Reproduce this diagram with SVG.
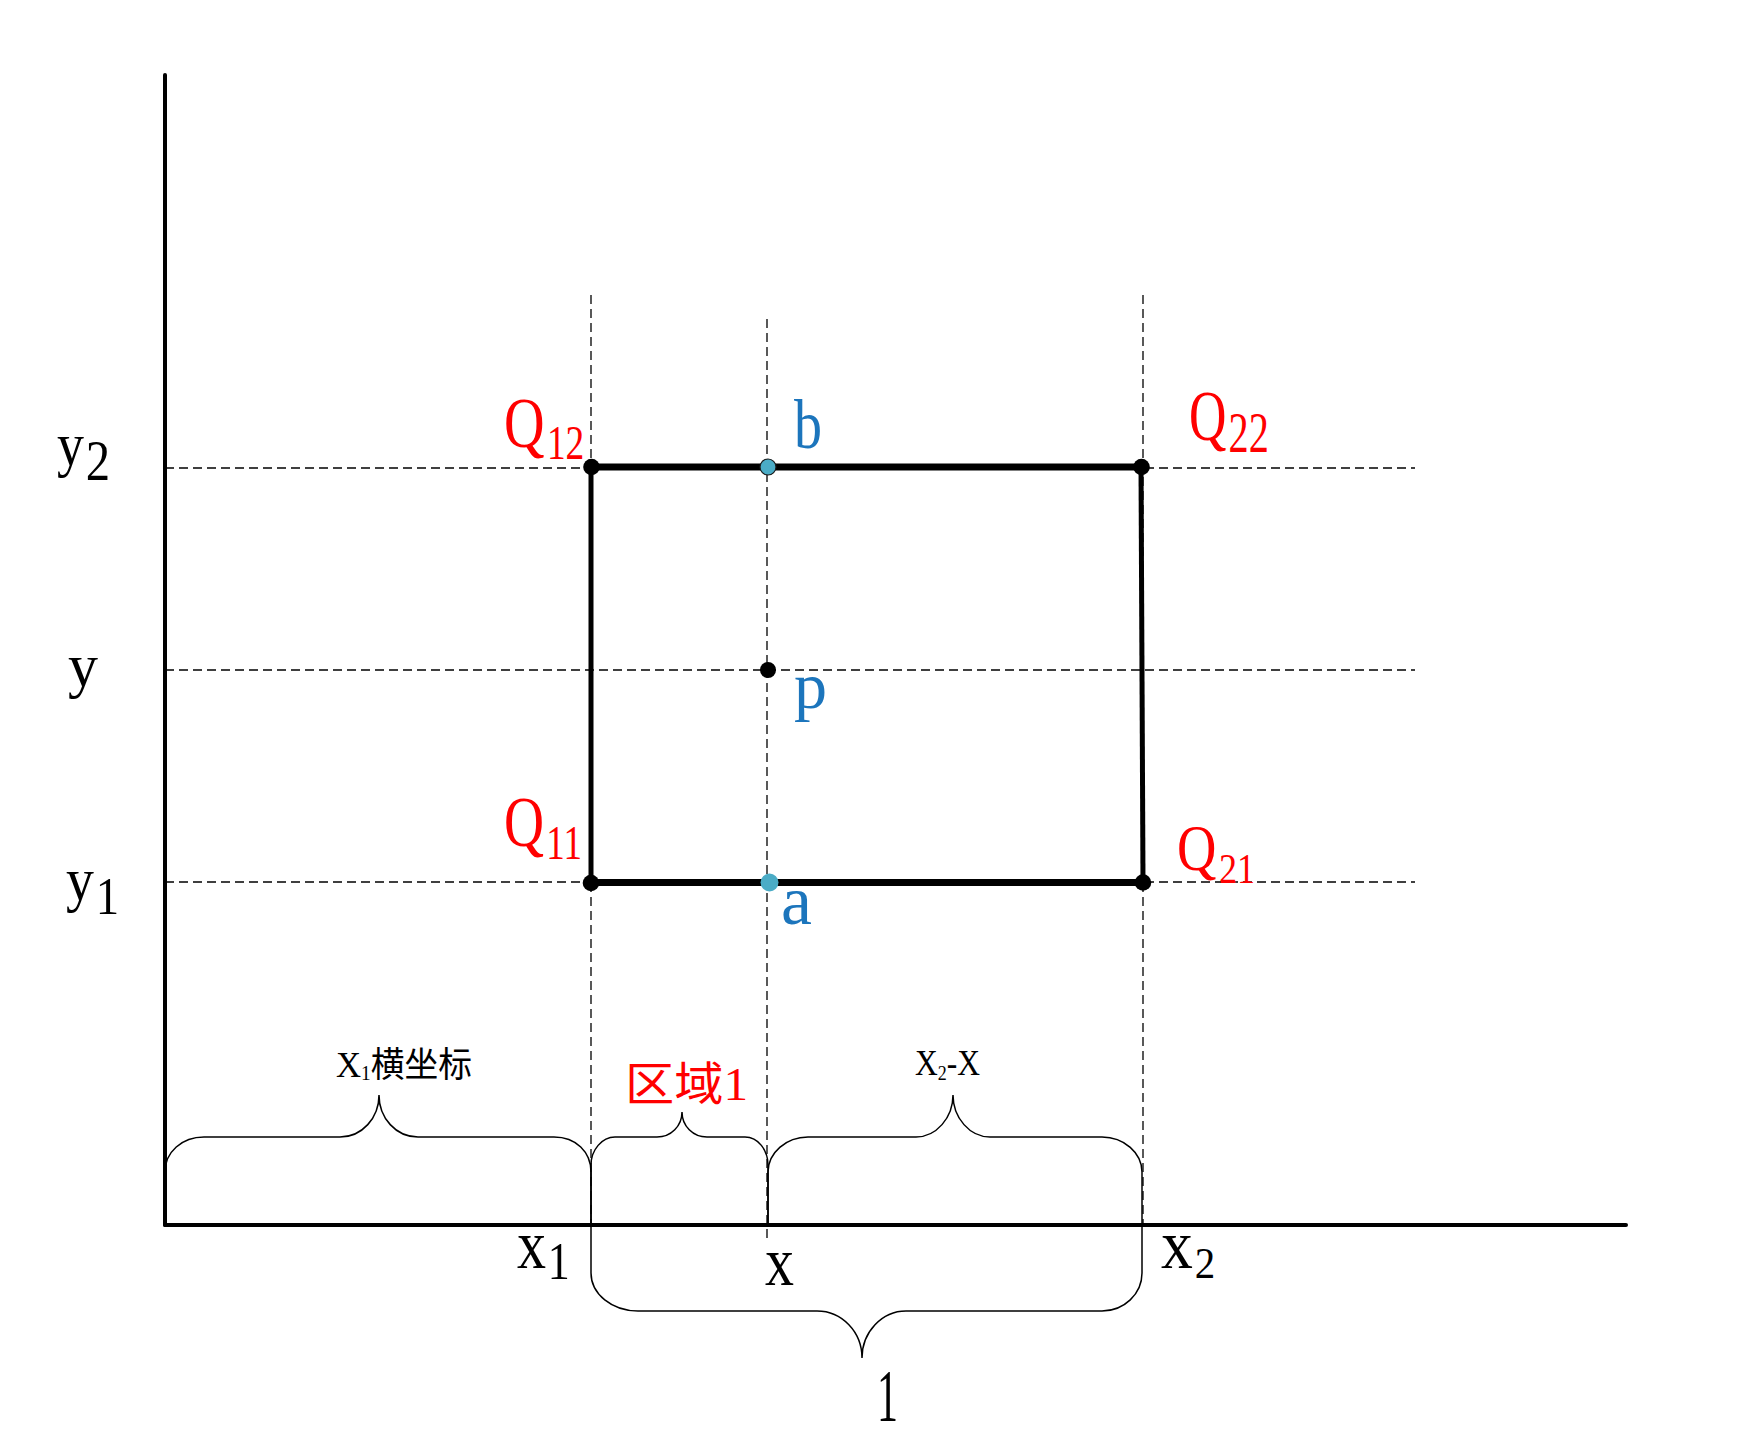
<svg xmlns="http://www.w3.org/2000/svg" width="1754" height="1448" viewBox="0 0 1754 1448">
<style>
.bg{fill:#fff}
.axis{stroke:#000;stroke-width:4;fill:none;stroke-linecap:round}
.dash{stroke:#000;stroke-width:1.3;fill:none;stroke-dasharray:9 5}
.edgeh{stroke:#000;stroke-width:7;fill:none}
.edgev{stroke:#000;stroke-width:5;fill:none}
.brace{stroke:#000;stroke-width:1.5;fill:none}
.pt{fill:#000}
.cpt{fill:#4bacc6}
.lbl{font-family:"Liberation Serif","DejaVu Serif","Noto Sans CJK SC",serif}
.red{fill:#ff0000}
.blue{fill:#1c75bc}
.blk{fill:#000}
</style>
<rect class="bg" x="0" y="0" width="1754" height="1448"/>
<g id="axes">
<line class="axis" x1="165" y1="75" x2="165" y2="1225"/>
<line class="axis" x1="165" y1="1225" x2="1626" y2="1225"/>
</g>
<g id="connectors">
<line class="dash" x1="165" y1="468" x2="1415" y2="468"/>
<line class="dash" x1="165" y1="670" x2="1415" y2="670"/>
<line class="dash" x1="165" y1="882" x2="1415" y2="882"/>
<line class="dash" x1="591" y1="295" x2="591" y2="1225"/>
<line class="dash" x1="767" y1="319" x2="767" y2="1238"/>
<line class="dash" x1="1143" y1="295" x2="1143" y2="1225"/>
<line class="edgeh" x1="591" y1="467" x2="1141" y2="467"/>
<line class="edgeh" x1="591" y1="882.5" x2="1143" y2="882.5"/>
<line class="edgev" x1="591" y1="467" x2="591" y2="883"/>
<line class="edgev" x1="1141" y1="467" x2="1143" y2="882"/>
</g>
<g id="braces">
<path class="brace" d="M165 1225 L165 1172 C165 1152 182 1137 204 1137 L340 1137 C362 1137 379 1118 379 1095 C379 1118 396 1137 418 1137 L554 1137 C576 1137 591 1152 591 1172 L591 1225"/>
<path class="brace" d="M591 1225 L591 1165 C591 1150 602 1137 615 1137 L657 1137 C671 1137 682 1126 682 1112 C682 1126 693 1137 707 1137 L745 1137 C758 1137 768 1150 768 1165 L768 1225"/>
<path class="brace" d="M768 1225 L768 1172 C768 1153 786 1137 808 1137 L916 1137 C936 1137 953 1118 953 1095 C953 1118 970 1137 990 1137 L1102 1137 C1124 1137 1142 1153 1142 1172 L1142 1225"/>
<path class="brace" d="M591 1225 L591 1273 C591 1294 612 1311 638 1311 L817 1311 C842 1311 862 1332 862 1358 C862 1332 882 1311 906 1311 L1102 1311 C1124 1311 1142 1294 1142 1273 L1142 1225"/>
</g>
<g id="Q12">
<circle class="pt" cx="591.5" cy="467" r="8.3"/>
<text class="lbl red" transform="translate(504,447) scale(0.78,1)" font-size="72">Q<tspan font-size="48" dx="3" dy="12">12</tspan></text>
</g>
<g id="Q22">
<circle class="pt" cx="1141.5" cy="467" r="8.3"/>
<text class="lbl red" transform="translate(1189,440) scale(0.72,1)" font-size="72">Q<tspan font-size="56" dx="3" dy="12">22</tspan></text>
</g>
<g id="Q11">
<circle class="pt" cx="591" cy="883" r="8.3"/>
<text class="lbl red" transform="translate(504,846) scale(0.77,1)" font-size="72">Q<tspan font-size="48" dx="3" dy="13">11</tspan></text>
</g>
<g id="Q21">
<circle class="pt" cx="1143" cy="882.5" r="8.3"/>
<text class="lbl red" transform="translate(1177,870) scale(0.84,1)" font-size="65">Q<tspan font-size="43" dx="3" dy="13">21</tspan></text>
</g>
<g id="b">
<circle class="cpt" cx="768" cy="467" r="8" stroke="#1a1a1a" stroke-width="1.2"/>
<text class="lbl blue" x="794" y="448" font-size="70" textLength="28" lengthAdjust="spacingAndGlyphs">b</text>
</g>
<g id="p">
<circle class="pt" cx="768" cy="670" r="8"/>
<text class="lbl blue" x="794" y="708" font-size="65" textLength="33" lengthAdjust="spacingAndGlyphs">p</text>
</g>
<g id="a">
<circle class="cpt" cx="769.5" cy="882.5" r="9"/>
<text class="lbl blue" x="781" y="924" font-size="70" textLength="31" lengthAdjust="spacingAndGlyphs">a</text>
</g>
<g id="ylabels">
<text class="lbl blk" transform="translate(57,465) scale(0.87,1)" font-size="62">y<tspan font-size="56" dx="2" dy="15">2</tspan></text>
<text class="lbl blk" x="68" y="686" font-size="61" textLength="30" lengthAdjust="spacingAndGlyphs">y</text>
<text class="lbl blk" transform="translate(66,900) scale(0.9,1)" font-size="62">y<tspan font-size="52" dx="2" dy="14">1</tspan></text>
</g>
<g id="xlabels">
<text class="lbl blk" transform="translate(517,1268) scale(0.83,1)" font-size="70">x<tspan font-size="53" dx="2" dy="11">1</tspan></text>
<text class="lbl blk" x="765" y="1285" font-size="70" textLength="29" lengthAdjust="spacingAndGlyphs">x</text>
<text class="lbl blk" transform="translate(1161,1268) scale(0.91,1)" font-size="70">x<tspan font-size="45" dx="2" dy="10">2</tspan></text>
<text class="lbl blk" x="877" y="1421" font-size="73" textLength="21" lengthAdjust="spacingAndGlyphs">1</text>
</g>
<g id="brace-labels">
<text class="lbl blk" x="336" y="1077" font-size="36" textLength="136" lengthAdjust="spacingAndGlyphs">X<tspan font-size="20" dy="3">1</tspan><tspan font-size="35" dy="-3">横坐标</tspan></text>
<text class="lbl red" x="625" y="1100" font-size="46" textLength="123" lengthAdjust="spacingAndGlyphs">区域1</text>
<text class="lbl blk" x="915" y="1075" font-size="35" textLength="65" lengthAdjust="spacingAndGlyphs">X<tspan font-size="20" dy="5">2</tspan><tspan dy="-5">-X</tspan></text>
</g>
</svg>
